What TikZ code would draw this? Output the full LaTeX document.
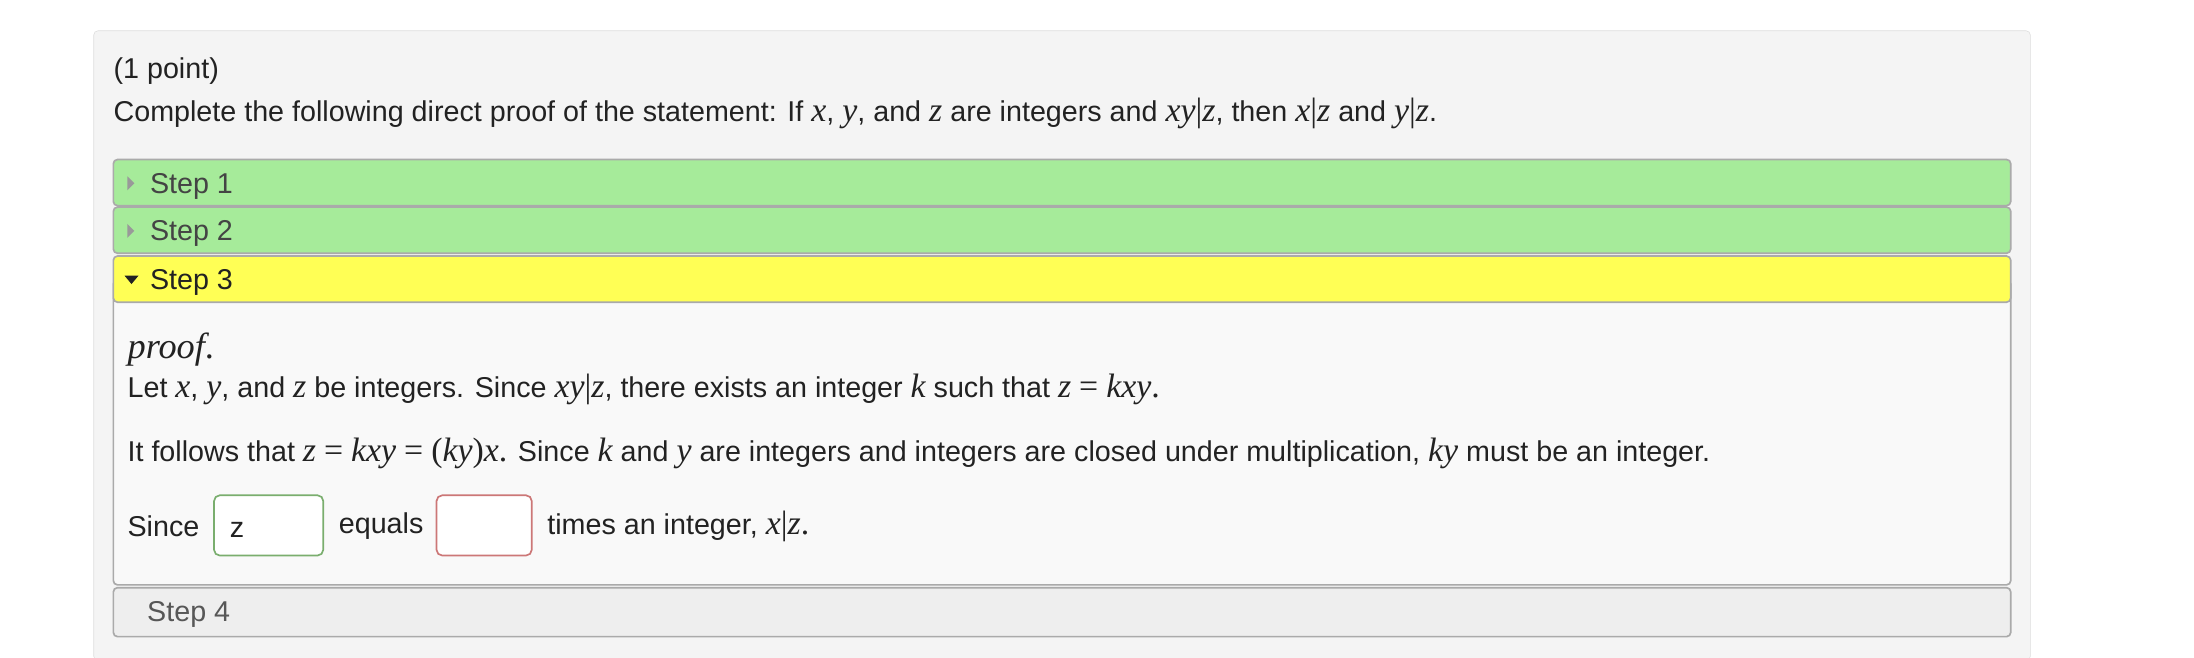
\documentclass[tikz,border=0pt]{standalone}
\usepackage{fontspec}
\setmainfont{Liberation Sans}
\newfontfamily\serifm[Scale=1.18]{Liberation Serif}
\newcommand{\mv}[1]{{\serifm\itshape #1}}
\newcommand{\mr}[1]{{\serifm #1}}
\definecolor{panel}{HTML}{F4F4F4}
\definecolor{pborder}{HTML}{DDDDDD}
\definecolor{bargreen}{HTML}{A6EB9A}
\definecolor{baryellow}{HTML}{FFFF55}
\definecolor{barborder}{HTML}{AAAAAA}
\definecolor{bodyfill}{HTML}{F9F9F9}
\definecolor{stepgray}{HTML}{EEEEEE}
\definecolor{txt}{HTML}{222222}
\definecolor{steptxt}{HTML}{444444}
\definecolor{okgreen}{HTML}{7AAE6E}
\definecolor{badred}{HTML}{CC7777}
\begin{document}
\begin{tikzpicture}[x=1pt,y=-1pt,
  bar/.style={draw=barborder,line width=1.2pt,rounded corners=3pt},
  lbl/.style={anchor=west,inner sep=0pt,font=\fontsize{20.5}{24}\selectfont,text=txt},
  steplbl/.style={anchor=west,inner sep=0pt,font=\fontsize{20.5}{24}\selectfont,text=steptxt},
  ansbox/.style={draw,line width=1.2pt,rounded corners=4pt,fill=white}]
\useasboundingbox (0,0) rectangle (1568,470);
\fill[white] (0,0) rectangle (1568,470);
\draw[pborder,fill=panel,rounded corners=3pt] (67,22) rectangle (1451,472);
\node[lbl] (pt) at (81,51) {(1 point)};
\node[lbl] (q) at (81,81) {Complete the following direct proof of the statement: If \mv{x}, \mv{y}, and \mv{z} are integers and \mv{xy}\mr{|}\mv{z}, then \mv{x}\mr{|}\mv{z} and \mv{y}\mr{|}\mv{z}.};
\draw[bar,fill=bargreen] (81,114) rectangle (1437,147);
\fill[gray!80] (91,126) -- (96,131) -- (91,136) -- cycle;
\node[steplbl] (s1) at (107,133) {Step 1};
\draw[bar,fill=bargreen] (81,148) rectangle (1437,181);
\fill[gray!80] (91,160) -- (96,165) -- (91,170) -- cycle;
\node[steplbl] (s2) at (107,167) {Step 2};
\draw[bar,fill=bodyfill] (81,200) rectangle (1437,418);
\draw[bar,fill=baryellow,rounded corners=3pt] (81,183) rectangle (1437,216);
\fill[txt] (89,197) -- (99,197) -- (94,203) -- cycle;
\node[lbl] (s3) at (107,202) {Step 3};
\node[lbl,font=\fontsize{22}{26}\selectfont] (pf) at (91,250) {\mv{proof}\mr{.}};
\node[lbl] (l1) at (91,278) {Let \mv{x}, \mv{y}, and \mv{z} be integers. Since \mv{xy}\mr{|}\mv{z}, there exists an integer \mv{k} such that \mv{z} \mr{=} \mv{kxy}\mr{.}};
\node[lbl] (l2) at (91,324) {It follows that \mv{z} \mr{=} \mv{kxy} \mr{=} \mr{(}\mv{ky}\mr{)}\mv{x}\mr{.} Since \mv{k} and \mv{y} are integers and integers are closed under multiplication, \mv{ky} must be an integer.};
\node[lbl] (l3) at (91,376) {Since};
\draw[ansbox,draw=okgreen] (153,354) rectangle (231,397);
\node[lbl] (z) at (164,379) {z};
\node[lbl] (eq) at (242,376) {equals};
\draw[ansbox,draw=badred] (312,354) rectangle (380,397);
\node[lbl] (t) at (391,376) {times an integer, \mv{x}\mr{|}\mv{z}\mr{.}};
\draw[bar,fill=stepgray] (81,420) rectangle (1437,455);
\node[steplbl,text=steptxt!90] (s4) at (105,439) {Step 4};
\end{tikzpicture}
\end{document}
